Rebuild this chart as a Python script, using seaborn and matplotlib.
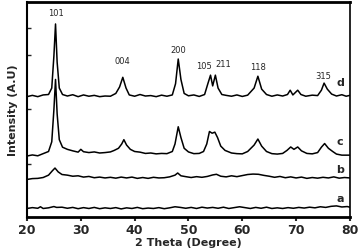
import seaborn as sns
import matplotlib.pyplot as plt
import pandas as pd

# XRD patterns (offset arbitrary units)
x_d = [20, 21, 22, 23, 24, 24.6, 25.0, 25.3, 25.6, 26.0, 26.6, 27.5, 28.5, 29.5, 30.5, 31.5, 32.5, 33.5, 34.5, 35.5,
       36.5, 37.2, 37.8, 38.4, 39.0, 40, 41, 42, 43, 44, 45, 46, 47, 47.6, 48.1, 48.6, 49.2, 50, 51, 52,
       53, 53.6, 54.1, 54.5, 55.0, 55.5, 56.2, 57, 58, 59, 60, 61, 62.2, 62.9, 63.6, 64.5, 65.5, 66.5, 67.5, 68.4,
       68.9, 69.4, 70.3, 70.9, 71.8, 73, 74, 74.7, 75.2, 75.8, 76.6, 77.5, 78.5, 79.3, 80]
y_d = [56.0, 56.6, 56.0, 56.8, 57.0, 60, 75, 89.8, 72, 60, 57, 56.3, 56.9, 56.0, 56.8, 56.2, 56.6, 56.0, 56.3, 56.2,
       57.5, 60.5, 65, 60, 56.8, 56.2, 57.0, 56.3, 56.5, 56.0, 56.7, 56.2, 56.8, 62, 73.5, 64, 57.5, 56.4, 56.8, 56.1,
       57, 62, 66, 61, 66, 60, 57, 56.6, 56.2, 56.8, 56.1, 56.7, 60, 65.5, 59.5, 57, 56.2, 56.8, 56.3, 57,
       59, 56.8, 59, 57, 56.2, 56.7, 56.5, 59, 62.3, 59.5, 57.2, 56.3, 56.9, 56.2, 56.6]

x_c = [20, 21, 22, 23, 24, 24.6, 25.0, 25.3, 25.6, 26.0, 26.6, 27.5, 28.5, 29.5, 30, 30.5, 31.5, 32.5, 33.5, 34.5,
       35.5, 36.2, 37, 37.6, 38.0, 38.5, 39.2, 40, 41, 42, 43, 44, 45, 46, 47, 47.5, 48.1, 48.6, 49.2, 50,
       51, 52, 52.8, 53.4, 53.9, 54.4, 54.9, 55.4, 56, 56.8, 58, 59, 60, 61, 62.2, 62.9, 63.6, 64.5, 65.5, 66.5,
       67.5, 68.3, 69, 69.6, 70.3, 71, 72, 73, 74, 74.7, 75.3, 76, 76.8, 77.5, 78.5, 80]
y_c = [28.4, 28.9, 28.5, 29.5, 30.5, 35, 50, 64, 48, 36, 32.5, 31.5, 30.8, 30.2, 31.5, 30.4, 30.0, 30.3, 29.8, 30.0,
       30.3, 31.0, 32, 34, 36, 33.5, 31.5, 30.5, 30.2, 29.6, 29.8, 29.4, 29.6, 29.5, 30.5, 34, 42, 37, 32, 30.3,
       29.5, 29.6, 30.5, 34, 39.8, 39, 39.5, 37, 33, 31, 29.8, 29.5, 29.4, 30.5, 33.5, 36.3, 33, 30.5, 29.5, 29.3,
       29.6, 31, 32.6, 31.5, 32.6, 30.8, 29.6, 29.4, 30, 32.5, 34.2, 32, 30.5, 29.3, 28.8, 28.8]

x_b = [20, 21, 22, 23, 24, 24.7, 25.2, 25.8, 26.5, 27.5, 28.5, 29.5, 30.5, 31.5, 32.5, 33.5, 34.5, 35.5, 36.5, 37.5,
       38.5, 39.5, 40.5, 41.5, 42.5, 43.5, 44.5, 45.5, 46.5, 47.5, 48.0, 48.6, 49.5, 50.5, 51.5, 52.5, 53.5, 54.5, 55.2, 56,
       57, 58, 59, 60, 61, 62, 63, 64, 65, 66, 67, 68, 69, 70, 71, 72, 73, 74, 75, 76,
       77, 78, 79, 80]
y_b = [17.5, 17.9, 18.0, 18.4, 19.5, 21.5, 22.8, 21, 19.8, 19.5, 19.0, 19.2, 18.6, 18.9, 18.3, 18.6, 18.2, 18.5, 18.1, 18.6,
       18.2, 18.6, 18.0, 18.4, 18.0, 18.5, 18.2, 18.3, 18.7, 19.5, 20.5, 19.2, 18.8, 18.4, 18.8, 18.5, 18.9, 19.6, 19.9, 19.0,
       18.7, 19.2, 18.8, 19.3, 19.8, 20.0, 19.9, 19.4, 19.0, 18.5, 18.9, 18.3, 18.7, 18.2, 18.6, 18.0, 18.4, 18.1, 18.5, 18.2,
       18.7, 18.1, 18.4, 18.2]

x_a = [20, 21, 22, 22.5, 23, 24, 25, 25.5, 26.5, 27.5, 28.5, 29.5, 30.5, 31.5, 32.5, 33.5, 34.5, 35.5, 36.5, 37.5,
       38.5, 39.5, 40.5, 41.5, 42.5, 43.5, 44.5, 45.5, 46.5, 47.5, 48.5, 49.5, 50.5, 51.5, 52.5, 53.5, 54.5, 55.5, 56.5, 57.5,
       58.5, 59.5, 60.5, 61.5, 62.5, 63.5, 64.5, 65.5, 66.5, 67.5, 68.5, 69.5, 70.5, 71.5, 72.5, 73.5, 74.5, 75.5, 76.5, 77.5,
       78.5, 79.5, 80]
y_a = [4.0, 4.4, 4.1, 4.8, 4.0, 4.3, 4.9, 4.5, 4.6, 4.1, 4.5, 3.9, 4.4, 4.0, 4.5, 3.9, 4.3, 4.0, 4.4, 3.8,
       4.3, 4.0, 4.5, 3.9, 4.2, 4.0, 4.4, 3.9, 4.3, 4.8, 4.5, 4.1, 4.5, 4.0, 4.6, 4.2, 4.5, 4.1, 4.6, 4.0,
       4.4, 4.8, 4.4, 4.0, 4.5, 4.1, 4.6, 4.0, 4.3, 4.0, 4.4, 4.1, 4.5, 4.2, 4.6, 4.3, 4.8, 4.5, 5.0, 5.2,
       4.7, 4.9, 4.6]

peak_labels = ["101", "004", "200", "105", "211", "118", "315"]
peak_x = [25.3, 37.8, 48.1, 52.9, 56.5, 62.9, 75.0]
peak_y = [95.3, 72.6, 78.1, 70.4, 71.4, 69.8, 66.0]

sample_labels = ["d", "c", "b", "a"]
sample_y = [62.8, 35.5, 22.5, 8.8]

sns.set_style("ticks")
plt.rcParams['font.family'] = ['DejaVu Sans']

fig = plt.figure(figsize=(3.6, 2.53), dpi=100)
ax = fig.add_axes([0.075, 0.138, 0.897, 0.85])

for xs, ys in [(x_d, y_d), (x_c, y_c), (x_b, y_b), (x_a, y_a)]:
    df = pd.DataFrame({"x": xs, "y": ys})
    sns.lineplot(data=df, x="x", y="y", ax=ax, color="black", linewidth=1.1,
                 estimator=None, sort=False)

for lab, px, py in zip(peak_labels, peak_x, peak_y):
    ax.text(px, py, lab, ha="center", va="center", fontsize=6)
for lab, py in zip(sample_labels, sample_y):
    ax.text(78.2, py, lab, ha="center", va="center", fontsize=8, fontweight="bold")

ax.set_xlim(20, 80)
ax.set_ylim(0, 100)
ax.set_xticks([20, 30, 40, 50, 60, 70, 80])
ax.set_yticks([24.7, 50.2, 75.3, 87.9])
ax.set_yticklabels([])
ax.tick_params(axis="x", direction="out", length=3, width=1.5, labelsize=9, pad=1)
ax.tick_params(axis="y", direction="in", length=3, width=1)
for t in ax.get_xticklabels():
    t.set_fontweight("bold")
ax.set_xlabel("2 Theta (Degree)", fontsize=8, fontweight="bold", labelpad=1)
ax.set_ylabel("Intensity (A.U)", fontsize=8, fontweight="bold", labelpad=3)

for side in ["top", "bottom"]:
    ax.spines[side].set_linewidth(2)
ax.spines["left"].set_linewidth(1.5)
ax.spines["right"].set_linewidth(1.2)
for s in ax.spines.values():
    s.set_color("black")

fig.savefig("out.png", dpi=100)
